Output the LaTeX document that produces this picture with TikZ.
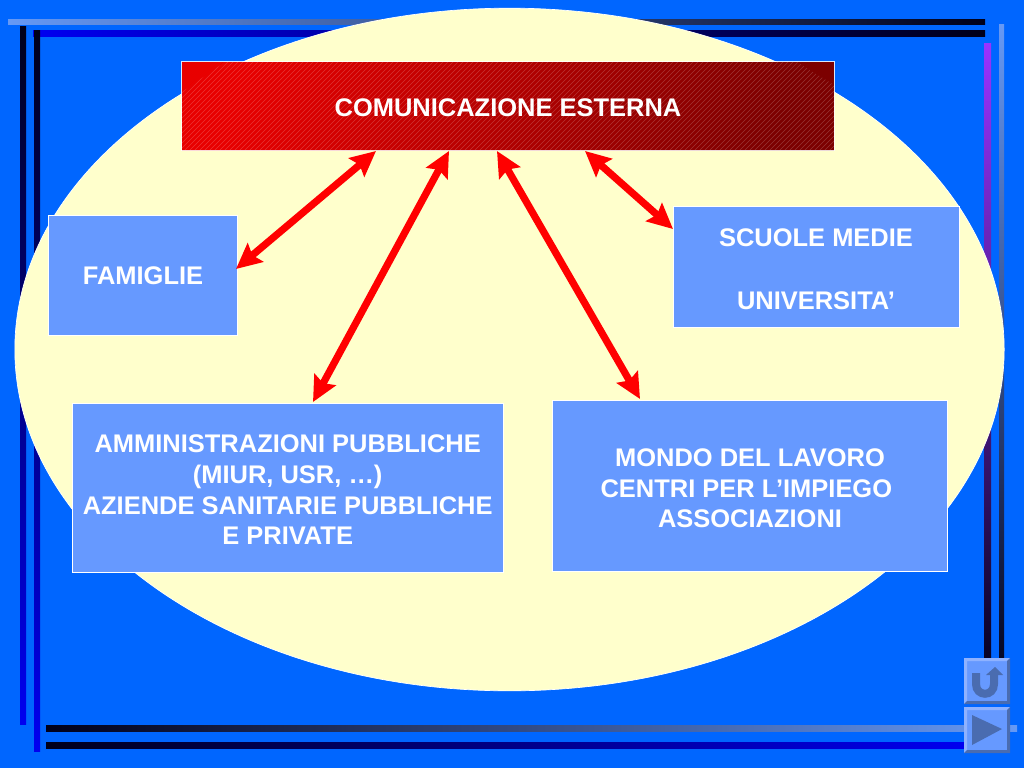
\documentclass[tikz,border=0pt]{standalone}
\usepackage{fontspec}
\setmainfont{Liberation Sans}
\usetikzlibrary{arrows.meta,shapes.geometric}
\definecolor{bgblue}{HTML}{0066FF}
\definecolor{boxblue}{HTML}{6699FF}
\definecolor{cream}{HTML}{FFFFCC}
\definecolor{iconblue}{HTML}{4A6CB0}
\definecolor{lightbar}{HTML}{6699F5}
\definecolor{navy}{HTML}{0000F0}
\definecolor{ink}{HTML}{00001A}
\definecolor{purplebar}{HTML}{9933FF}
\definecolor{bevellight}{HTML}{8FB2FF}
\definecolor{titleleft}{HTML}{E80000}
\definecolor{titleright}{HTML}{7C0000}
\tikzset{
  x=0.75pt,y=-0.75pt,
  labelfont/.style={font=\fontsize{19.1}{23}\selectfont\bfseries},
  bluebox/.style={draw=white,line width=0.6pt,fill=boxblue,text=white,inner sep=0pt,align=center,labelfont},
  link/.style={draw=red,line width=5.4pt,{Stealth[length=19pt,width=18pt,inset=3pt]}-{Stealth[length=19pt,width=18pt,inset=3pt]}},
}
\begin{document}
\begin{tikzpicture}
\useasboundingbox (0,0) rectangle (1024,768);
\fill[bgblue] (0,0) rectangle (1024,768);
% frame bars
\shade[left color=lightbar,right color=ink] (8,19) rectangle (985,24);
\shade[left color=navy,right color=ink] (33,30) rectangle (985,36);
\shade[top color=ink,bottom color=navy] (20,26) rectangle (26,724);
\shade[top color=ink,bottom color=navy] (34,30) rectangle (40,751);
\shade[top color=purplebar,bottom color=ink] (984,43) rectangle (991,690);
\shade[top color=lightbar,bottom color=ink] (999,24) rectangle (1004,690);
\shade[left color=ink,right color=lightbar] (46,725) rectangle (1017,731);
\shade[left color=ink,right color=navy] (46,742) rectangle (964,748);
% ellipse
\node[draw=white,line width=0.5pt,fill=cream,ellipse,inner sep=0pt,minimum width=742pt,minimum height=512pt] (oval) at (509.5,349.5) {};
% title box
\node[inner sep=0pt,minimum width=489pt,minimum height=66pt,left color=titleleft,right color=titleright,shading angle=75,draw=none] (com) at (508,106) {};
\begin{scope}
\clip (182,92) -- (225,62) -- (797,62) -- (834,85) -- (834,150) -- (182,150) -- cycle;
\foreach \i in {0,5,...,770}
  \draw[white,opacity=0.2,line width=0.4pt] (70+\i,155) -- (70+\i+100,55);
\end{scope}
\draw[white,line width=0.5pt,opacity=0.85] (com.south west) rectangle (com.north east);
\node[text=white,labelfont] (comtext) at (508,107.7) {COMUNICAZIONE ESTERNA};
% boxes
\node[bluebox,minimum width=141.5pt,minimum height=90pt] (fam) at (143,275) {\rule{0pt}{15pt}FAMIGLIE};
\node[bluebox,minimum width=214.5pt,minimum height=90.5pt] (scu) at (816,267) {\rule{0pt}{17pt}SCUOLE MEDIE\\[24.5pt]UNIVERSITA’};
\node[bluebox,minimum width=323.5pt,minimum height=126.5pt] (amm) at (287.7,488) {\rule{0pt}{16pt}AMMINISTRAZIONI PUBBLICHE\\(MIUR, USR, …)\\AZIENDE SANITARIE PUBBLICHE\\E PRIVATE};
\node[bluebox,minimum width=296pt,minimum height=128pt] (mon) at (750,486) {\rule{0pt}{17pt}MONDO DEL LAVORO\\CENTRI PER L’IMPIEGO\hspace{5.5pt}\mbox{}\\ASSOCIAZIONI};
% connector ends
\coordinate (c1) at (376,151); \coordinate (f1) at (236,269);
\coordinate (c2) at (449,151); \coordinate (a2) at (313,402);
\coordinate (c3) at (497,151); \coordinate (m3) at (640,399);
\coordinate (c4) at (585,151); \coordinate (s4) at (673,229);
\draw[link] (c1) -- (f1);
\draw[link] (c2) -- (a2);
\draw[link] (c3) -- (m3);
\draw[link] (c4) -- (s4);
% buttons
\fill[boxblue] (964,658) rectangle (1010,704);
\fill[bevellight] (964,658) -- (1010,658) -- (1007,661) -- (967,661) -- (967,701) -- (964,704) -- cycle;
\fill[iconblue] (1010,658) -- (1010,704) -- (964,704) -- (967,701) -- (1007,701) -- (1007,661) -- cycle;
\draw[iconblue,line width=6pt] (976,673) -- (976,684) .. controls (976,697) and (994,697) .. (994,684) -- (994,673);
\fill[iconblue] (986,675) -- (995,667) -- (1003,675) -- cycle;
\fill[boxblue] (964,707) rectangle (1010,753);
\fill[bevellight] (964,707) -- (1010,707) -- (1007,710) -- (967,710) -- (967,750) -- (964,753) -- cycle;
\fill[iconblue] (1010,707) -- (1010,753) -- (964,753) -- (967,750) -- (1007,750) -- (1007,710) -- cycle;
\fill[iconblue] (972,715) -- (1002,729) -- (972,745) -- cycle;
\end{tikzpicture}
\end{document}
